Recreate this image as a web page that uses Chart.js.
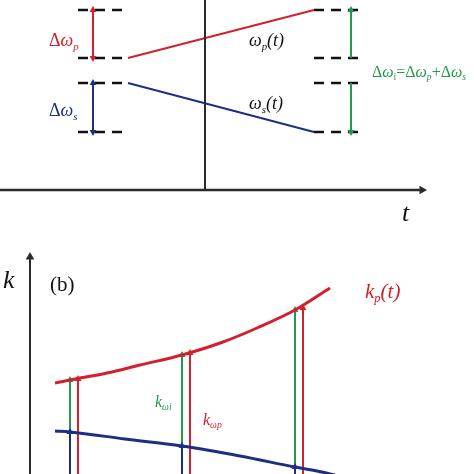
<!DOCTYPE html>
<html><head><meta charset="utf-8">
<script src="https://cdn.jsdelivr.net/npm/chart.js@4"></script>
<style>
html,body{margin:0;padding:0;background:#fff;overflow:hidden}
.box{position:absolute;left:0;width:474px;height:237px}
</style></head><body>
<div class="box" style="top:0"><canvas id="top"></canvas></div>
<div class="box" style="top:237px"><canvas id="bot"></canvas></div>
<script>
// (a) frequency sweep, t = 0 on the vertical axis
const levels = [1.80, 1.32, 1.07, 0.58];      // pump top, pump bottom, signal top, signal bottom
const sweepT = [-0.77, 1.09];
const pumpW = [1.32, 1.80];
const signalW = [1.07, 0.58];
const dashLeft = [-1.27, -0.77];
const dashRight = [1.09, 1.59];
const arrowLeftT = -1.12, arrowRightT = 1.46, tAxisEnd = 2.17;

// (b) wave vectors
const kpX = [0.25, 0.40, 0.77, 1.10, 1.52, 1.93, 2.27, 2.65, 3.00];
const kpK = [0.91, 0.94, 1.01, 1.09, 1.19, 1.32, 1.46, 1.64, 1.86];
const ksX = [0.25, 0.40, 0.95, 1.52, 2.10, 2.65, 2.87, 3.05];
const ksK = [0.43, 0.42, 0.35, 0.28, 0.18, 0.07, 0.03, -0.01];
const idlerX = [0.40, 1.52, 2.65];
const pumpX = [0.48, 1.60, 2.73];
const idlerTop = [0.94, 1.19, 1.64];
const signalTop = [0.42, 0.28, 0.07];
const pumpTop = [0.95, 1.21, 1.66];
const kAxisEnd = 2.17;

const RED='#d3202e', BLUE='#1d2f84', GREEN='#22994d', INK='#2b2b2b';

function line(xs, ys, color, w, extra){
  return Object.assign({
    data: xs.map((x,i)=>({x:x, y:ys[i]})),
    borderColor: color, backgroundColor: color, pointBackgroundColor: color,
    borderWidth: w, pointRadius: 0, pointHoverRadius: 0, pointBorderWidth: 0, fill: false, tension: 0
  }, extra || {});
}
// y0 below y1, heads: 'up' | 'down' | 'both'
function arrow(x, y0, y1, color, w, heads){
  const r0 = heads=='up' ? 0 : 4;
  const r1 = heads=='down' ? 0 : 4;
  return line([x,x],[y0,y1],color,w,{pointStyle:'triangle', pointRadius:[r0,r1], pointRotation:[180,0]});
}

const richText = {
  id:'richText',
  afterDatasetsDraw(chart, args, opts){
    const ctx=chart.ctx, sx=chart.scales.x, sy=chart.scales.y;
    (opts.items||[]).forEach(it=>{
      let px=sx.getPixelForValue(it.x), py=sy.getPixelForValue(it.y);
      ctx.save();
      ctx.fillStyle=it.color; ctx.textBaseline='alphabetic'; ctx.textAlign='left';
      it.parts.forEach(p=>{
        const sub = p[1][0]=='s', ital = p[1].endsWith('i');
        const size = sub ? it.size*0.6 : it.size;
        ctx.font=(ital?'italic ':'')+size+'px "Liberation Serif","DejaVu Serif",serif';
        ctx.fillText(p[0], px, py+(sub?it.size*0.2:0));
        px+=ctx.measureText(p[0]).width;
      });
      ctx.restore();
    });
  }
};

function baseOpts(xmin,xmax,ymin,ymax,items){
  return {
    responsive:true, maintainAspectRatio:false, animation:false,
    layout:{padding:0, autoPadding:false},
    scales:{
      x:{type:'linear', display:false, min:xmin, max:xmax},
      y:{type:'linear', display:false, min:ymin, max:ymax}
    },
    plugins:{legend:{display:false}, tooltip:{enabled:false}, richText:{items:items}}
  };
}

// ---------- top panel
const topSets = [
  line([0,0],[0,2.0],INK,2),
  line([-2.1,tAxisEnd],[0,0],INK,2.5,{pointStyle:'triangle', pointRadius:[0,5], pointRotation:[0,90]}),
  line(sweepT,pumpW,RED,2),
  line(sweepT,signalW,BLUE,2),
  arrow(arrowLeftT,levels[1],levels[0],RED,2,'both'),
  arrow(arrowLeftT,levels[3],levels[2],BLUE,2,'both'),
  arrow(arrowRightT,levels[1],levels[0],GREEN,2,'up'),
  arrow(arrowRightT,levels[3],levels[2],GREEN,2,'down')
];
levels.forEach(l=>{
  topSets.push(line(dashLeft,[l,l],'#111',2.5,{borderDash:[10,7]}));
  topSets.push(line(dashRight,[l,l],'#111',2.5,{borderDash:[10,7]}));
});

const topItems = [
  {x:-1.56, y:1.44, color:RED, size:18, parts:[['Δ','n'],['ω','i'],['p','si']]},
  {x:-1.56, y:0.74, color:BLUE, size:18, parts:[['Δ','n'],['ω','i'],['s','si']]},
  {x:0.44, y:1.44, color:'#111', size:18, parts:[['ω','i'],['p','si'],['(t)','i']]},
  {x:0.44, y:0.81, color:'#111', size:18, parts:[['ω','i'],['s','si'],['(t)','i']]},
  {x:1.67, y:1.13, color:GREEN, size:16, parts:[['Δ','n'],['ω','i'],['i','s'],['=Δ','n'],['ω','i'],['p','si'],['+Δ','n'],['ω','i'],['s','si']]},
  {x:1.97, y:-0.31, color:'#111', size:26, parts:[['t','i']]}
];

new Chart(document.getElementById('top'), {
  type:'line', data:{datasets:topSets},
  options:baseOpts(-2.05,2.69,-0.47,1.90,topItems), plugins:[richText]
});

// ---------- bottom panel
const botSets = [
  line([0,0],[-0.1,kAxisEnd],INK,2,{pointStyle:'triangle', pointRadius:[0,5], pointRotation:[0,0]}),
  line(kpX,kpK,RED,3,{cubicInterpolationMode:'monotone'}),
  line(ksX,ksK,BLUE,3,{cubicInterpolationMode:'monotone'})
];
idlerX.forEach((x,i)=>{
  botSets.push(arrow(x,-0.1,signalTop[i],BLUE,2,'up'));
  botSets.push(arrow(x,signalTop[i],idlerTop[i],GREEN,2,'up'));
  botSets.push(arrow(pumpX[i],-0.1,pumpTop[i],RED,2,'up'));
});

const botItems = [
  {x:-0.27, y:1.86, color:'#111', size:26, parts:[['k','i']]},
  {x:0.20, y:1.83, color:'#111', size:21, parts:[['(b)','n']]},
  {x:3.35, y:1.76, color:RED, size:21, parts:[['k','i'],['p','si'],['(t)','i']]},
  {x:1.25, y:0.67, color:GREEN, size:16, parts:[['k','i'],['ωi','si']]},
  {x:1.73, y:0.49, color:RED, size:16, parts:[['k','i'],['ωp','si']]},
  {x:3.37, y:-0.16, color:BLUE, size:21, parts:[['k','i'],['s','si'],['(t)','i']]}
];

new Chart(document.getElementById('bot'), {
  type:'line', data:{datasets:botSets},
  options:baseOpts(-0.30,4.44,0,2.37,botItems), plugins:[richText]
});
</script></body></html>
